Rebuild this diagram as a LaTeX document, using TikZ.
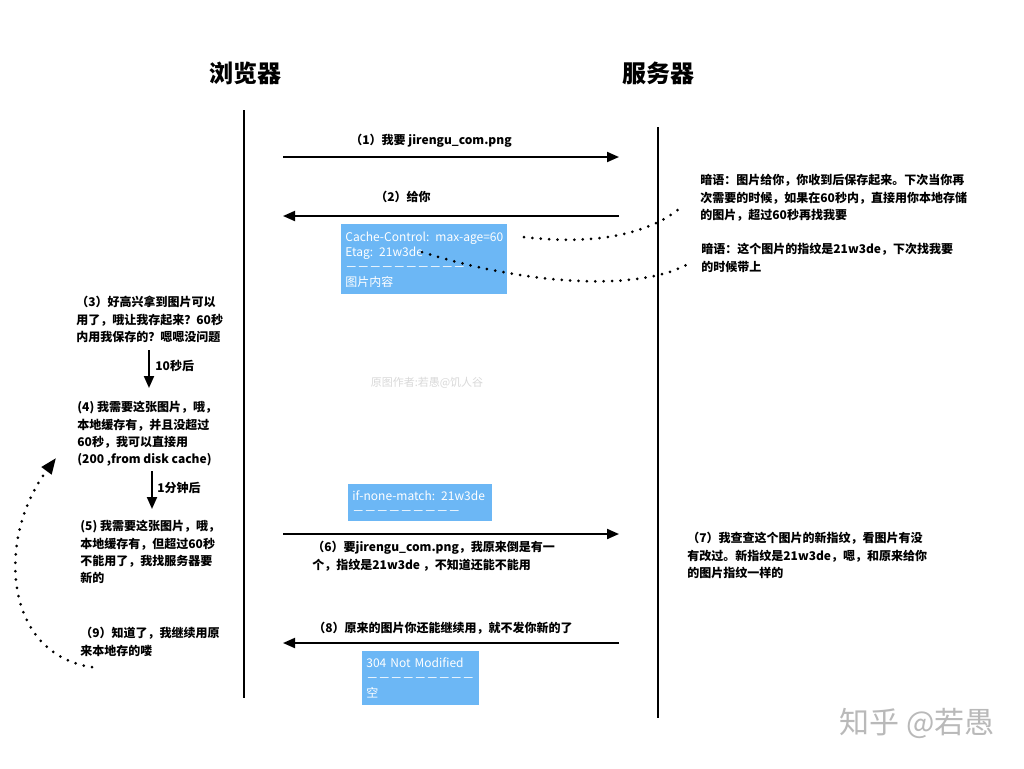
\documentclass[tikz,border=0pt]{standalone}
\usepackage{fontspec}
\setmainfont{Noto Sans CJK SC}
\usepackage{tikz}
\usetikzlibrary{arrows.meta}
\definecolor{boxblue}{RGB}{108,183,245}
\tikzstyle{lifeline} = [line width=1pt]
\tikzstyle{msg} = [line width=1pt, -{Triangle[length=6pt,width=5pt]}]
\tikzstyle{title} = [inner sep=0pt, font=\fontsize{12}{14}\selectfont\bfseries]
\tikzstyle{note} = [inner sep=0pt, anchor=north west, align=left, font=\fontsize{6}{8.7}\selectfont\bfseries]
\tikzstyle{bluebox} = [fill=boxblue, text=white, anchor=north west, align=left, inner xsep=2pt, inner ysep=0pt, font=\fontsize{6}{7.5}\selectfont]
\tikzstyle{hint} = [dash pattern=on 0pt off 4.2pt, line cap=round, line width=1.5pt]
\tikzstyle{watermark} = [inner sep=0pt, text=gray!30, font=\fontsize{5.5}{7}\selectfont]

\begin{document}
\begin{tikzpicture}[x=0.5pt, y=-0.5pt]
\useasboundingbox[fill=white] (0,0) rectangle (1024,768);
% Titles
\node[title] (browser) at (245,73) {浏览器};
\node[title] (server) at (658,73) {服务器};
% Lifelines
\coordinate (btop) at (244,110);
\coordinate (bbot) at (244,698);
\coordinate (stop) at (658,127);
\coordinate (sbot) at (658,718);
\draw[lifeline] (btop) -- (bbot);
\draw[lifeline] (stop) -- (sbot);
% Message end points, left (l) and right (r)
\coordinate (l1) at (283,157);
\coordinate (r1) at (619,157);
\coordinate (l2) at (283,216);
\coordinate (r2) at (619,216);
\coordinate (l6) at (283,534);
\coordinate (r6) at (619,534);
\coordinate (l8) at (283,643);
\coordinate (r8) at (619,643);
% (1) request
\node[note, anchor=west] (m1) at (350,141) {（1）我要 jirengu\_com.png};
\draw[msg] (l1) -- (r1);
% (2) response
\node[note, anchor=west] (m2) at (375,197) {（2）给你};
\draw[msg] (r2) -- (l2);
\node[bluebox, text width=79pt, minimum height=35pt] (resp) at (341,224)
  {Cache-Control: max-age=60\\Etag: 21w3de\\－－－－－－－－－－\\图片内容};
% Hints from the server
\node[note] (hint1) at (700,174) {暗语：图片给你，你收到后保存起来。下次当你再\\次需要的时候，如果在60秒内，直接用你本地存储\\的图片，超过60秒再找我要};
\node[note] (hint2) at (701,243) {暗语：这个图片的指纹是21w3de，下次找我要\\的时候带上};
\coordinate (c1a) at (524,237);
\coordinate (c1b) at (679,209);
\coordinate (c2a) at (422,252);
\coordinate (c2b) at (688,264);
\draw[hint] (c1a) .. controls (600,246) and (650,232) .. (c1b);
\draw[hint] (c2a) .. controls (530,286) and (640,291) .. (c2b);
% Browser side steps
\node[note] (s3) at (76,296) {（3）好高兴拿到图片可以\\用了，哦让我存起来？60秒\\内用我保存的？嗯嗯没问题};
\coordinate (d1a) at (149,350);
\coordinate (d1b) at (149,388);
\draw[msg] (d1a) -- (d1b);
\node[note, anchor=west] (t1) at (155,366) {10秒后};
\node[note] (s4) at (77,401) {(4) 我需要这张图片，哦，\\本地缓存有，并且没超过\\60秒，我可以直接用\\(200 ,from disk cache)};
\coordinate (d2a) at (152,471);
\coordinate (d2b) at (152,509);
\draw[msg] (d2a) -- (d2b);
\node[note, anchor=west] (t2) at (157,488) {1分钟后};
\node[note] (s5) at (80,520) {(5) 我需要这张图片，哦，\\本地缓存有，但超过60秒\\不能用了，我找服务器要\\新的};
% (6) conditional request
\node[bluebox, text width=68pt, minimum height=18.5pt] (cond) at (348,484)
  {if-none-match: 21w3de\\－－－－－－－－－};
\draw[msg] (l6) -- (r6);
\node[note] (m6) at (312,541) {（6）要jirengu\_com.png，我原来倒是有一\\个，指纹是21w3de ，不知道还能不能用};
% (7) server check
\node[note] (s7) at (687,532) {（7）我查查这个图片的新指纹，看图片有没\\有改过。新指纹是21w3de，嗯，和原来给你\\的图片指纹一样的};
% (8) not modified
\node[note, anchor=west] (m8) at (313,628) {（8）原来的图片你还能继续用，就不发你新的了};
\draw[msg] (r8) -- (l8);
\node[bluebox, text width=54.5pt, minimum height=27pt] (notmod) at (362,651)
  {304 Not Modified\\－－－－－－－－－\\空};
% (9) reuse the cache
\node[note] (s9) at (80,627) {（9）知道了，我继续用原\\来本地存的喽};
\coordinate (loopa) at (92,667);
\coordinate (loopb) at (56,458);
\draw[hint, -{Triangle[length=8pt,width=6pt]}] (loopa) .. controls (5,655) and (-5,540) .. (loopb);
% Watermarks
\node[watermark] (credit) at (427,383) {原图作者:若愚@饥人谷};
\node[inner sep=0pt, text=gray!55, font=\fontsize{15}{17}\selectfont] (zhihu) at (917,723) {知乎 @若愚};
\end{tikzpicture}
\end{document}
